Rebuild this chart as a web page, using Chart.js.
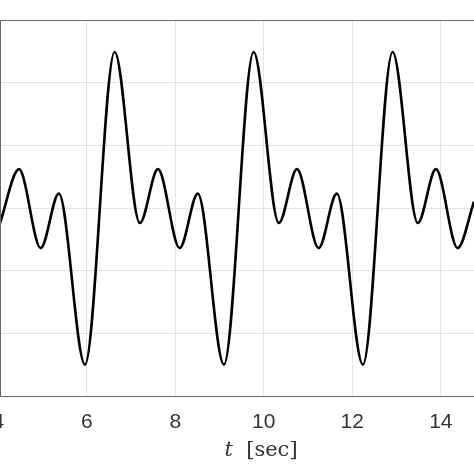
<!DOCTYPE html>
<html>
<head>
<meta charset="utf-8">
<script src="https://cdn.jsdelivr.net/npm/chart.js@4/dist/chart.umd.min.js"></script>
<style>
html, body { margin: 0; padding: 0; background: #fff; }
#wrap { width: 474px; height: 474px; }
</style>
</head>
<body>
<div id="wrap"><canvas id="c"></canvas></div>
<script>
// values (extrema of the curve)
var tValues = [4.04, 4.47, 4.96, 5.37, 5.96, 6.63, 7.20,
               7.61, 8.10, 8.51, 9.10, 9.77, 10.34,
               10.75, 11.24, 11.65, 12.24, 12.91, 13.48,
               13.89, 14.38, 14.75];
var yValues = [-0.24, 0.62, -0.64, 0.23, -2.50, 2.49, -0.24,
               0.62, -0.64, 0.23, -2.50, 2.49, -0.24,
               0.62, -0.64, 0.23, -2.50, 2.49, -0.24,
               0.62, -0.64, 0.10];
var xTicks = [4, 6, 8, 10, 12, 14];

var points = tValues.map(function(t, i) { return {x: t, y: yValues[i]}; });

var titlePlugin = {
    id: 'xtitle',
    afterDraw: function(chart) {
        var ctx = chart.ctx;
        var area = chart.chartArea;
        ctx.save();
        ctx.fillStyle = '#333';
        ctx.textBaseline = 'middle';
        ctx.font = 'italic 21px "DejaVu Serif", serif';
        var tW = ctx.measureText('t').width;
        ctx.font = '21px "DejaVu Serif", serif';
        var rest = '  [sec]';
        var rW = ctx.measureText(rest).width;
        var x0 = 261 - (tW + rW) / 2;
        ctx.font = 'italic 21px "DejaVu Serif", serif';
        ctx.fillText('t', x0, 451);
        ctx.font = '21px "DejaVu Serif", serif';
        ctx.fillText(rest, x0 + tW, 451);
        // frame
        ctx.strokeStyle = '#666';
        ctx.lineWidth = 1;
        ctx.strokeRect(area.left + 0.5, area.top + 0.5, area.right - area.left, area.bottom - area.top);
        ctx.restore();
    }
};

new Chart(document.getElementById('c'), {
    type: 'line',
    data: {
        datasets: [{
            data: points,
            borderColor: '#000',
            borderWidth: 2.6,
            pointRadius: 0,
            cubicInterpolationMode: 'monotone',
            fill: false
        }]
    },
    options: {
        responsive: true,
        maintainAspectRatio: false,
        animation: false,
        layout: { padding: { top: 20, bottom: 0, left: 0, right: 0 } },
        plugins: { legend: { display: false }, tooltip: { enabled: false } },
        scales: {
            x: {
                type: 'linear',
                min: 4.04,
                max: 14.75,
                afterBuildTicks: function(axis) {
                    axis.ticks = xTicks.map(function(v) { return {value: v}; });
                },
                afterFit: function(axis) {
                    axis.height = 78;
                    axis.paddingLeft = 0;
                    axis.paddingRight = 0;
                },
                grid: { color: '#e3e3e3', drawTicks: false },
                border: { display: false },
                ticks: {
                    autoSkip: false,
                    maxRotation: 0,
                    padding: 14,
                    color: '#333',
                    font: { family: 'Liberation Sans', size: 21 }
                }
            },
            y: {
                min: -3,
                max: 3,
                afterFit: function(axis) { axis.width = 0; },
                grid: { color: '#e3e3e3', drawTicks: false },
                border: { display: false },
                ticks: { display: false, stepSize: 1 }
            }
        }
    },
    plugins: [titlePlugin]
});
</script>
</body>
</html>
